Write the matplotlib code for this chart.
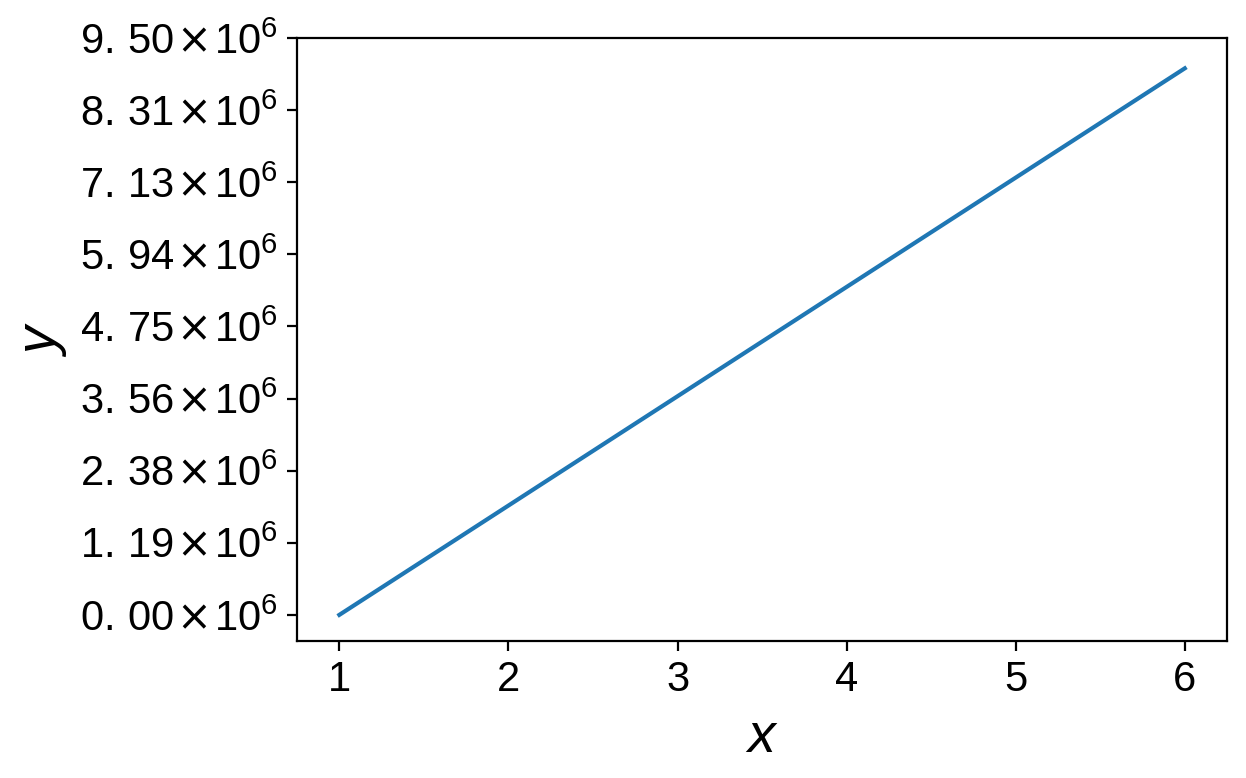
import numpy as np
import matplotlib
matplotlib.use("Agg")
import matplotlib.pyplot as plt

plt.rcParams['font.family'] = ['Liberation Sans', 'DejaVu Sans']
plt.rcParams['mathtext.fontset'] = 'custom'
plt.rcParams['mathtext.rm'] = 'Liberation Sans'
plt.rcParams['mathtext.it'] = 'Liberation Sans:italic'
plt.rcParams['mathtext.sf'] = 'Noto Sans CJK SC'

x = [1, 2, 3, 4, 5, 6]
y = [0.0, 1.8e6, 3.6e6, 5.4e6, 7.2e6, 9.0e6]
yticks = np.linspace(0, 9.5e6, 9)
ytick_mant = ['0.00', '1.19', '2.38', '3.56', '4.75', '5.94', '7.13', '8.31', '9.50']

fig = plt.figure(figsize=(6.23, 3.89), dpi=200)
ax = fig.add_subplot(111)
fig.subplots_adjust(left=0.2384, right=0.9848, top=0.9512, bottom=0.1761)

ax.plot(x, y, color='#1f77b4', lw=1.5)
ax.set_ylim(-0.43e6, 9.5e6)
ax.set_yticks(yticks)
labels = []
for m in ytick_mant:
    a, b = m.split('.')
    labels.append(r'$%s.\,%s\hspace{0.08}\mathsf{\times}\hspace{0.08}10^{6}$' % (a, b))
ax.set_yticklabels(labels)
ax.tick_params(labelsize=15)
ax.set_xlabel(r'$x$', fontsize=20)
ax.set_ylabel(r'$y$', fontsize=20)

fig.savefig('out.png', dpi=200)
